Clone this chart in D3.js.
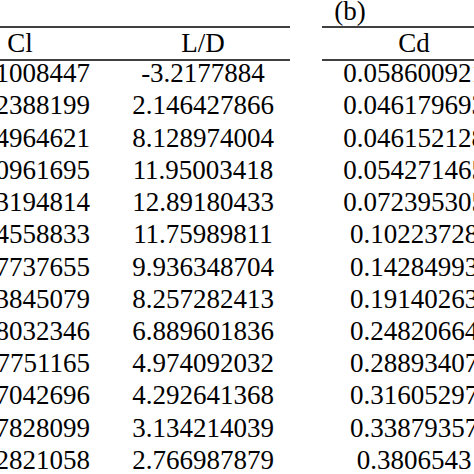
<!DOCTYPE html><html><head><meta charset="utf-8">
<script src="https://cdn.jsdelivr.net/npm/d3@7"></script>
<style>body{margin:0;background:#fff}</style></head><body>
<script>
const headers = ["Cl", "L/D", "Cd"];
const clValues = ["-0.1881008447","0.0992388199","0.3754964621","0.6490961695","0.9333194814","1.2024558833","1.4197737655","1.5803845079","1.7098032346","1.4377751165","1.3567042696","1.0617828099","1.0532821058"];
const ldValues = ["-3.2177884","2.146427866","8.128974004","11.95003418","12.89180433","11.75989811","9.936348704","8.257282413","6.889601836","4.974092032","4.292641368","3.134214039","2.766987879"];
const cdValues = ["0.058600921","0.046179693","0.046152128","0.054271465","0.072395305","0.10223728","0.14284993","0.19140263","0.24820664","0.28893407","0.31605297","0.33879357","0.3806543"];
const panelLabel = "(b)";

const W = 474, H = 474;
const svg = d3.select("body").append("svg").attr("width", W).attr("height", H)
  .style("font-family", "'Liberation Serif','Times New Roman',serif").style("font-size", "27px");
const y = d3.scaleBand().domain(d3.range(ldValues.length)).range([57, 476]);
const g = svg.append("g");
[[0,290,27],[0,290,60],[322,474,27],[322,474,60]].forEach(([x1,x2,yy])=>
  g.append("line").attr("x1",x1).attr("x2",x2).attr("y1",yy).attr("y2",yy).attr("stroke","#000").attr("stroke-width",1.3));
g.append("text").attr("x",350).attr("y",20).attr("text-anchor","middle").text(panelLabel);
g.append("text").attr("x",20).attr("y",52).attr("text-anchor","middle").text(headers[0]);
g.append("text").attr("x",203).attr("y",52).attr("text-anchor","middle").text(headers[1]);
g.append("text").attr("x",414).attr("y",52).attr("text-anchor","middle").text(headers[2]);
const cy = i => y(i) + y.bandwidth()/2 + 9;
g.selectAll(".cl").data(clValues).join("text").attr("x",90).attr("y",(d,i)=>cy(i)).attr("text-anchor","end").text(d=>d);
g.selectAll(".ld").data(ldValues).join("text").attr("x",203).attr("y",(d,i)=>cy(i)).attr("text-anchor","middle").text(d=>d);
g.selectAll(".cd").data(cdValues).join("text").attr("x",414).attr("y",(d,i)=>cy(i)).attr("text-anchor","middle").text(d=>d);
</script></body></html>
